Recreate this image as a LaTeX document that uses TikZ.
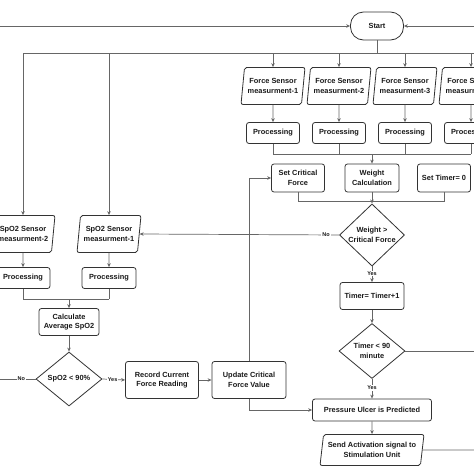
\documentclass[tikz,border=0pt]{standalone}
\usepackage{fontspec}
\setmainfont{Liberation Sans}
\usetikzlibrary{shapes.geometric,arrows.meta}
\begin{document}
\begin{tikzpicture}[x=1pt,y=-1pt,
  font=\fontsize{7.4}{9.4}\selectfont\bfseries,
  every node/.style={text=black!90},
  box/.style={draw=black!80, line width=0.8pt, rounded corners=2.5pt, align=center, inner sep=1pt},
  para/.style={draw=black!80, line width=0.8pt, trapezium, trapezium left angle=78, trapezium right angle=102,
     trapezium stretches body, rounded corners=2pt, align=center, inner sep=1pt},
  dia/.style={draw=black!80, line width=0.8pt, diamond, inner sep=0pt, align=center},
  conn/.style={draw=black!60, line width=0.7pt},
  arr/.style={conn, -{Stealth[length=4pt,width=3.5pt]}},
  lbl/.style={fill=white, inner sep=1pt, font=\fontsize{5.5}{6}\selectfont\bfseries}]
\useasboundingbox (0,0) rectangle (474,474);
\fill[white] (0,0) rectangle (474,474);

% nodes
\node[box, rounded corners=13pt, minimum width=53pt, minimum height=28pt] (start) at (377,26) {Start};

\foreach \i/\x in {1/273,2/339,3/405,4/471}{
  \node[para, minimum width=64pt, minimum height=37pt] (fs\i) at (\x,86) {Force Sensor\\measurment-\i};
  \node[box, minimum width=53pt, minimum height=21pt] (p\i) at (\x,133) {Processing};
}
\node[box, minimum width=53pt, minimum height=28pt] (sc) at (298,178) {Set Critical\\Force};
\node[box, minimum width=54pt, minimum height=28pt] (wc) at (372,178) {Weight\\Calculation};
\node[box, minimum width=53pt, minimum height=28pt] (st) at (444,178) {Set Timer= 0};
\node[dia, minimum width=65pt, minimum height=55pt] (wd) at (372,235) {Weight >\\Critical Force};
\node[box, minimum width=64pt, minimum height=27pt] (t1) at (372,296) {Timer= Timer+1};
\node[dia, minimum width=66pt, minimum height=55pt] (td) at (372,351) {Timer < 90\\minute};
\node[box, minimum width=119pt, minimum height=22pt] (pu) at (372,410) {Pressure Ulcer is Predicted};
\node[para, minimum width=104pt, minimum height=31pt] (sa) at (372,450) {Send Activation signal to\\Stimulation Unit};

\node[box, minimum width=74pt, minimum height=37pt] (uc) at (249,380) {Update Critical\\Force Value};
\node[box, minimum width=73pt, minimum height=37pt] (rc) at (162,380) {Record Current\\Force Reading};
\node[dia, minimum width=66pt, minimum height=54pt] (sd) at (69,379) {SpO2 < 90\%};
\node[box, minimum width=60pt, minimum height=27pt] (ca) at (69,322) {Calculate\\Average SpO2};
\node[para, minimum width=64pt, minimum height=37pt] (s1) at (109,234) {SpO2 Sensor\\measurment-1};
\node[para, minimum width=64pt, minimum height=37pt] (s2) at (23,234) {SpO2 Sensor\\measurment-2};
\node[box, minimum width=54pt, minimum height=21pt] (sp1) at (109,278) {Processing};
\node[box, minimum width=54pt, minimum height=21pt] (sp2) at (23,278) {Processing};

% free ends
\coordinate (topL) at (0,26);
\coordinate (topR) at (474,26);
\coordinate (busL) at (23,53);
\coordinate (busR) at (474,53);
\coordinate (tdR) at (474,351);
\coordinate (saR) at (474,450);
\coordinate (sdL) at (0,379);
\coordinate (fbus) at (0,154);
\coordinate (sbus) at (0,299);

% connectors
\draw[arr] (topL) -- (start.west);
\draw[arr] (topR) -- (start.east);
\draw[conn] (start.south) -- (start.south |- busR);
\draw[conn] (busL) -- (busR);
\foreach \i in {1,2,3,4}{
  \draw[arr] (fs\i.north |- busR) -- (fs\i.north);
  \draw[arr] (fs\i.south) -- (p\i.north);
  \draw[conn] (p\i.south) -- (p\i.south |- fbus);
}
\draw[conn] (p1.south |- fbus) -- (p4.south |- fbus);
\draw[arr] (wc.north |- fbus) -- (wc.north);
\draw[arr] (s2.north |- busL) -- (s2.north);
\draw[arr] (s1.north |- busL) -- (s1.north);

\draw[conn] (sc.south) -- ++(0,9) -| (st.south);
\draw[arr] (wc.south) -- (wd.north);
\draw[arr] (wd.west) -- node[lbl, pos=0.065]{No} (s1.east);
\draw[arr] (wd.south) -- node[lbl, pos=0.45]{Yes} (t1.north);
\draw[arr] (t1.south) -- (td.north);
\draw[conn] (td.east) -- (tdR);
\draw[arr] (td.south) -- node[lbl, pos=0.45]{Yes} (pu.north);
\draw[arr] (pu.south) -- (sa.north);
\draw[conn] (sa.east) -- (saR);

\draw[arr] (uc.north) |- (sc.west);
\draw[arr] (uc.south) |- (pu.west);
\draw[arr] (rc.east) -- (uc.west);
\draw[arr] (sd.east) -- node[lbl, pos=0.45]{Yes} (rc.west);
\draw[conn] (sd.west) -- node[lbl, pos=0.4]{No} (sdL);
\draw[arr] (ca.south) -- (sd.north);

\foreach \i in {1,2}{
  \draw[arr] (s\i.south) -- (sp\i.north);
  \draw[conn] (sp\i.south) -- (sp\i.south |- sbus);
}
\draw[conn] (sp2.south |- sbus) -- (sp1.south |- sbus);
\draw[arr] (ca.north |- sbus) -- (ca.north);
\end{tikzpicture}
\end{document}
